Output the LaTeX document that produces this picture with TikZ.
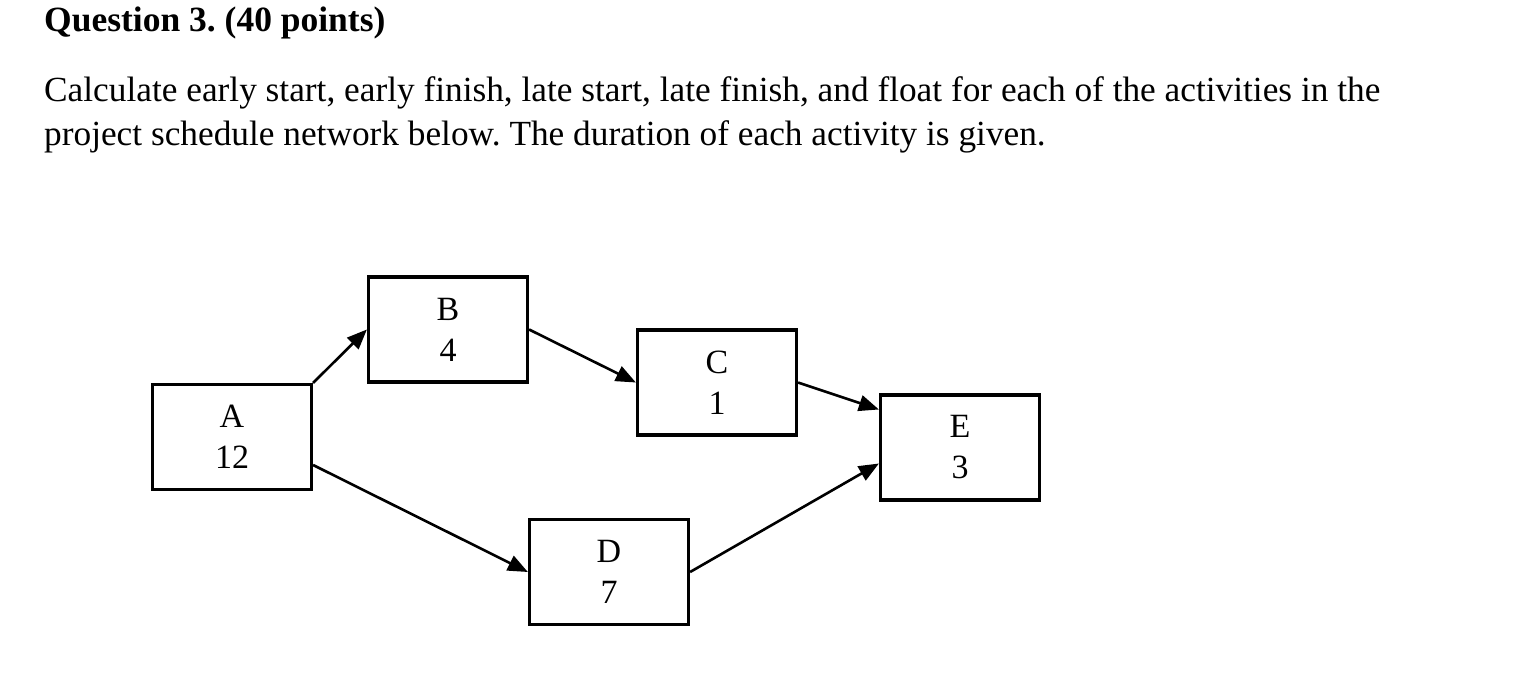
\documentclass[tikz,border=0pt]{standalone}
\usepackage{fontspec}
\setmainfont{Liberation Serif}
\usetikzlibrary{arrows.meta,calc}
\begin{document}
\frenchspacing
\begin{tikzpicture}[x=1pt,y=-1pt,
 act/.style={draw,line width=3.2pt,minimum width=159pt,minimum height=105pt,inner sep=0pt,align=center,font=\fontsize{34}{41}\selectfont},
 conn/.style={line width=2.6pt,-{Triangle[length=20pt,width=16pt]}},
 txt/.style={anchor=base west,inner sep=0pt,font=\fontsize{35.3}{44}\selectfont}]
\useasboundingbox[fill=white] (0,0) rectangle (1540,682);
\node[txt,font=\bfseries\fontsize{35.5}{44}\selectfont] (title) at (44,32) {Question 3. (40 points)};
\node[txt] (l1) at (44,102) {Calculate early start, early finish, late start, late finish, and float for each of the activities in the};
\node[txt] (l2) at (44,146) {project schedule network below. The duration of each activity is given.};
\node[act] (A) at (232,437) {A\\12};
\node[act] (B) at (448,329.5) {B\\4};
\node[act] (C) at (717,382.5) {C\\1};
\node[act] (D) at (609,572) {D\\7};
\node[act] (E) at (960,447.5) {E\\3};
\draw[conn] (A.north east) -- (B.west);
\draw[conn] (B.east) -- (C.west);
\draw[conn] ($(A.east)+(0,28)$) -- (D.west);
\draw[conn] (C.east) -- ($(E.west)+(0,-38)$);
\draw[conn] (D.east) -- ($(E.west)+(0,16)$);
\end{tikzpicture}
\end{document}
